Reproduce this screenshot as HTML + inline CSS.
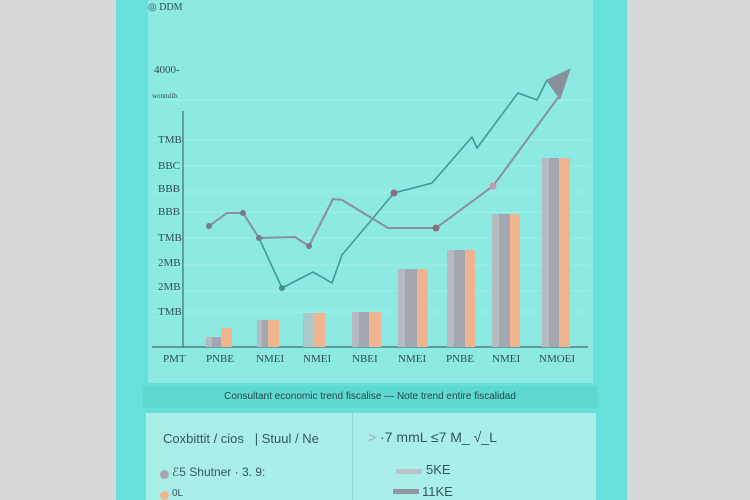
<!DOCTYPE html>
<html><head><meta charset="utf-8"><style>
body{margin:0;width:750px;height:500px;background:#d8d8d8;position:relative;overflow:hidden;font-family:"Liberation Sans",sans-serif}
.teal{position:absolute;left:116px;top:0;width:511px;height:500px;background:#66e0d8}
.inner{position:absolute;left:148px;top:0;width:445px;height:383px;background:#8ceae3}
.cap{position:absolute;left:143px;top:386px;width:454px;height:22px;background:#5fd8cf;font-size:10px;color:#24494c;text-align:center;line-height:22px}
.bot{position:absolute;left:146px;top:413px;width:450px;height:87px;background:#aaeee9}
.t{position:absolute;font-family:"Liberation Serif",serif;font-size:11px;color:#2f4f55}
.dot{position:absolute;width:9px;height:9px;border-radius:50%}
</style></head><body>
<div class="teal"></div>
<div class="inner"></div>
<svg style="position:absolute;left:0;top:0" width="750" height="500">
<g stroke="#a4efe9" stroke-width="1">
<line x1="152" x2="590" y1="100" y2="100"/><line x1="152" x2="590" y1="140" y2="140"/><line x1="152" x2="590" y1="166" y2="166"/><line x1="152" x2="590" y1="192" y2="192"/><line x1="152" x2="590" y1="212" y2="212"/><line x1="152" x2="590" y1="238" y2="238"/><line x1="152" x2="590" y1="265" y2="265"/><line x1="152" x2="590" y1="291" y2="291"/><line x1="152" x2="590" y1="312" y2="312"/>
</g>
<line x1="183" y1="111" x2="183" y2="347" stroke="#3f6f70" stroke-width="1.2"/>
<line x1="152" y1="347" x2="588" y2="347" stroke="#3f6f70" stroke-width="1.2"/>
<g>
<rect x="206" y="337" width="15" height="10" fill="#a3a8b0"/><rect x="221" y="328" width="11" height="19" fill="#efb591"/>
<rect x="257" y="320" width="11" height="27" fill="#a3a8b0"/><rect x="268" y="320" width="11" height="27" fill="#efb591"/>
<rect x="303" y="313" width="10" height="34" fill="#a9c9cc"/><rect x="313" y="313" width="12" height="34" fill="#efb591"/>
<rect x="352" y="312" width="17" height="35" fill="#a3a8b0"/><rect x="369" y="312" width="12" height="35" fill="#efb591"/>
<rect x="398" y="269" width="19" height="78" fill="#a3a8b0"/><rect x="417" y="269" width="11" height="78" fill="#efb591"/>
<rect x="447" y="250" width="18" height="97" fill="#a3a8b0"/><rect x="465" y="250" width="10" height="97" fill="#efb591"/>
<rect x="492" y="214" width="18" height="133" fill="#a3a8b0"/><rect x="510" y="214" width="10" height="133" fill="#efb591"/>
<rect x="542" y="158" width="17" height="189" fill="#a3a8b0"/><rect x="559" y="158" width="11" height="189" fill="#efb591"/>
</g>
<g fill="#c3c8ce" opacity=".6"><rect x="206" y="337" width="6" height="10"/><rect x="257" y="320" width="5" height="27"/><rect x="352" y="312" width="7" height="35"/><rect x="398" y="269" width="7" height="78"/><rect x="447" y="250" width="7" height="97"/><rect x="492" y="214" width="7" height="133"/><rect x="542" y="158" width="7" height="189"/></g>
<polyline fill="none" stroke="#3f9a98" stroke-width="1.6" points="259,238 282,288 313,272 332,283 342,255 394,193 432,183 472,137 477,148 518,93 537,100 547,80"/>
<polyline fill="none" stroke="#8a8f9e" stroke-width="2" points="209,226 227,213 243,213 259,238 295,237 309,246 333,199 342,200 388,228 436,228 493,186 560,95"/>
<polygon points="571,68 546,80 560,100" fill="#8a8f9e"/>
<g fill="#6f7f8c"><circle cx="209" cy="226" r="3"/><circle cx="243" cy="213" r="3"/><circle cx="259" cy="238" r="3"/><circle cx="309" cy="246" r="3"/></g>
<circle cx="282" cy="288" r="3" fill="#4d8e8e"/>
<circle cx="394" cy="193" r="3.5" fill="#8a6f80"/><circle cx="436" cy="228" r="3.5" fill="#8a6f80"/><circle cx="493" cy="186" r="3.5" fill="#c89aa8"/>
</svg>
<div class="t" style="left:148px;top:2px;font-size:10px">◎ DDM</div>
<div class="t" style="left:154px;top:64px">4000-</div>
<div class="t" style="left:152px;top:92px;font-size:7px">wonmlib.</div>
<div class="t" style="left:158px;top:134px">TMB</div><div class="t" style="left:158px;top:160px">BBC</div><div class="t" style="left:158px;top:183px">BBB</div><div class="t" style="left:158px;top:206px">BBB</div><div class="t" style="left:158px;top:232px">TMB</div><div class="t" style="left:158px;top:257px">2MB</div><div class="t" style="left:158px;top:281px">2MB</div><div class="t" style="left:158px;top:306px">TMB</div>
<div class="t" style="left:163px;top:353px">PMT</div><div class="t" style="left:206px;top:353px">PNBE</div><div class="t" style="left:256px;top:353px">NMEI</div><div class="t" style="left:303px;top:353px">NMEI</div><div class="t" style="left:352px;top:353px">NBEI</div><div class="t" style="left:398px;top:353px">NMEI</div><div class="t" style="left:446px;top:353px">PNBE</div><div class="t" style="left:492px;top:353px">NMEI</div><div class="t" style="left:539px;top:353px">NMOEI</div>
<div class="cap">Consultant economic trend fiscalise — Note trend entire fiscalidad</div>
<div class="bot">
<div style="position:absolute;left:206px;top:0;width:1px;height:87px;background:#8fd6d0"></div>
<div style="position:absolute;left:17px;top:18px;font-size:13px;color:#34585c">Coxbittit / cios &nbsp; | Stuul / Ne</div>
<div class="dot" style="left:14px;top:57px;background:#a3a8b0"></div>
<div class="dot" style="left:14px;top:78px;background:#efb591"></div>
<div style="position:absolute;left:26px;top:52px;font-size:12px;color:#34585c">ℰ5 Shutner · 3. 9:</div>
<div style="position:absolute;left:26px;top:75px;font-size:10px;color:#34585c">0L</div>
<div style="position:absolute;left:222px;top:16px;font-size:14px;color:#34585c"><span style="color:#a3a8b0">&gt;</span> ·7 mmL ≤7 M_ √_L</div>
<div style="position:absolute;left:250px;top:56px;width:26px;height:5px;background:#b8c4c8"></div>
<div style="position:absolute;left:280px;top:49px;font-size:13px;color:#34585c">5KE</div>
<div style="position:absolute;left:247px;top:76px;width:26px;height:5px;background:#8f98a0"></div>
<div style="position:absolute;left:276px;top:71px;font-size:13px;color:#34585c">11KE</div>
</div>
</body></html>
